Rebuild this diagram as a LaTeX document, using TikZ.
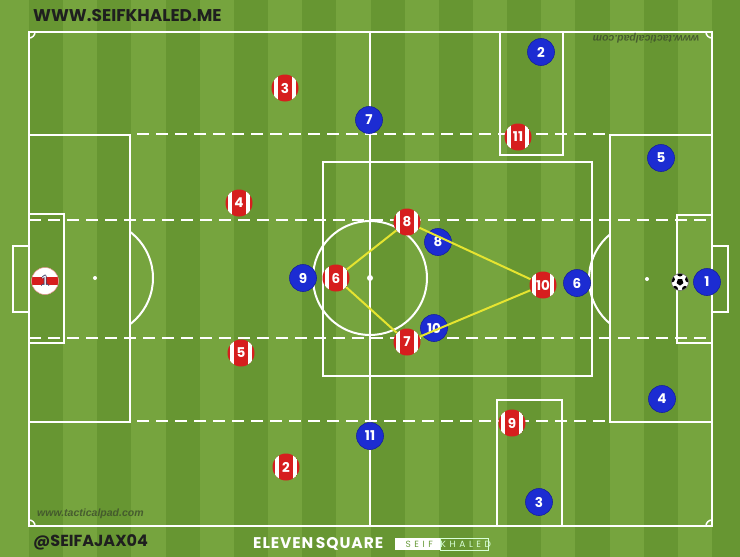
\documentclass[tikz,border=0pt]{standalone}
\usepackage{fontspec}
\setmainfont{Liberation Sans}
\newfontfamily\headfont{Poppins}
\newfontfamily\widefont{Poppins}[LetterSpace=6]
\newfontfamily\logofont{Poppins}[LetterSpace=40]
\definecolor{grassL}{RGB}{118,164,62}
\definecolor{grassD}{RGB}{103,150,50}
\definecolor{pred}{RGB}{214,30,30}
\definecolor{pblue}{RGB}{28,44,210}
\definecolor{yel}{RGB}{230,228,48}
\definecolor{padtext}{RGB}{62,80,44}
\definecolor{logogreen}{RGB}{105,155,58}
\definecolor{gkdigit}{RGB}{60,62,105}
\newcommand{\numfont}{\headfont\bfseries\fontsize{13.5}{13.5}\selectfont}
\newcommand{\outlinedigit}[1]{\leavevmode
  \rlap{\kern-0.7pt\textcolor{gkdigit}{#1}}%
  \rlap{\kern0.7pt\textcolor{gkdigit}{#1}}%
  \rlap{\raisebox{0.7pt}{\textcolor{gkdigit}{#1}}}%
  \rlap{\raisebox{-0.7pt}{\textcolor{gkdigit}{#1}}}%
  \textcolor{white}{#1}}
\tikzset{
  pline/.style={white, line width=2pt},
  dline/.style={white, line width=2pt, dash pattern=on 12pt off 7pt},
  yline/.style={yel, line width=2pt},
  redp/.style={circle, minimum size=27pt, inner sep=0pt, fill=pred, text=white, font=\numfont,
    path picture={
      \fill[white] ([xshift=-10.8pt]path picture bounding box.south) rectangle ([xshift=-7.3pt]path picture bounding box.north);
      \fill[white] ([xshift=7.3pt]path picture bounding box.south) rectangle ([xshift=10.8pt]path picture bounding box.north);
    }},
  gkp/.style={circle, minimum size=27pt, inner sep=0pt, fill=white, draw=pred!50!white, line width=0.5pt,
    font=\fontsize{15}{15}\selectfont,
    path picture={
      \fill[pred] ([yshift=-4pt]path picture bounding box.west) rectangle ([yshift=4pt]path picture bounding box.east);
    }},
  bluep/.style={circle, minimum size=27pt, inner sep=0pt, fill=pblue, draw=pblue!75!black, line width=0.6pt, text=white, font=\numfont},
  footb/.style={circle, minimum size=17pt, inner sep=0pt, fill=white, draw=black!60, line width=0.5pt,
    path picture={
      \begin{scope}[shift={(path picture bounding box.center)}]
        \fill[black] (90:3.6) -- (162:3.6) -- (234:3.6) -- (306:3.6) -- (18:3.6) -- cycle;
        \fill[black] (270:8.5) circle (3);
        \fill[black] (198:8.5) circle (3);
        \fill[black] (342:8.5) circle (3);
        \fill[black] (126:8.5) circle (3);
        \fill[black] (54:8.5) circle (3);
      \end{scope}
    }},
  padstyle/.style={font=\itshape\bfseries\fontsize{10.5}{10.5}\selectfont, text=padtext, opacity=0.85, inner sep=0pt}
}
\begin{document}
\begin{tikzpicture}[x=1pt,y=-1pt]
\useasboundingbox (0,0) rectangle (740,557);
% grass
\fill[grassL] (0,0) rectangle (740,557);
\foreach \k in {-1,0,...,10} {
  \fill[grassD] ({29+68.3*\k},0) rectangle ({63.15+68.3*\k},557);
}
% pitch markings
\draw[pline] (29,32) rectangle (712,526);
\draw[pline] (370,32) -- (370,526);
\draw[pline] (370,278) circle[radius=57pt];
\fill[white] (370,278) circle[radius=3pt];
% left side
\draw[pline] (29,135) rectangle (130,422);
\draw[pline] (29,214) rectangle (64,343);
\draw[pline] (29,246) -- (13,246) -- (13,312) -- (29,312);
\fill[white] (95,278) circle[radius=2pt];
\begin{scope}
  \clip (131,150) rectangle (220,400);
  \draw[pline] (95,278) circle[radius=58pt];
\end{scope}
% right side
\draw[pline] (610,135) rectangle (712,422);
\draw[pline] (677,215) rectangle (712,343);
\draw[pline] (712,246) -- (728,246) -- (728,312) -- (712,312);
\fill[white] (647,279) circle[radius=2pt];
\begin{scope}
  \clip (520,150) rectangle (609,400);
  \draw[pline] (647,279) circle[radius=58pt];
\end{scope}
% zones
\draw[pline, line width=1.6pt] (323,162) rectangle (592,376);
\draw[pline] (500,32) -- (500,155) -- (563,155) -- (563,32);
\draw[pline] (497,526) -- (497,400) -- (562,400) -- (562,526);
% corner arcs
\draw[pline, line width=1.5pt] (29,38) arc[start angle=-90, end angle=0, radius=6pt];
\draw[pline, line width=1.5pt] (706,32) arc[start angle=180, end angle=270, radius=6pt];
\draw[pline, line width=1.5pt] (29,520) arc[start angle=90, end angle=0, radius=6pt];
\draw[pline, line width=1.5pt] (706,526) arc[start angle=180, end angle=90, radius=6pt];
% dashed lines
\draw[dline] (137,134) -- (610,134);
\draw[dline] (137,421) -- (610,421);
\draw[dline] (29,220) -- (712,220);
\draw[dline] (29,338) -- (712,338);
% watermark texts
\node[padstyle, anchor=west] (padA) at (37,514) {www.tacticalpad.com};
\node[padstyle, rotate=180] (padB) at (646,38) {www.tacticalpad.com};
% players: red
\node[redp] (r3) at (285,88) {3};
\node[redp] (r11) at (518,137) {11};
\node[redp] (r4) at (239,203) {4};
\node[redp] (r8) at (407,222) {8};
\node[redp] (r6) at (336,278) {6};
\node[gkp] (r1) at (45,281) {\outlinedigit{1}};
\node[redp] (r10) at (543,285) {10};
\node[redp] (r7) at (407,342) {7};
\node[redp] (r5) at (241,353) {5};
\node[redp] (r9) at (512,423) {9};
\node[redp] (r2) at (286,467) {2};
% players: blue
\node[bluep] (b2) at (541,52) {2};
\node[bluep] (b7) at (369,120) {7};
\node[bluep] (b5) at (661,158) {5};
\node[bluep] (b8) at (438,242) {8};
\node[bluep] (b9) at (303,278) {9};
\node[bluep] (b6) at (577,283) {6};
\node[bluep] (b1) at (707,282) {1};
\node[bluep] (b10) at (434,328) {10};
\node[bluep] (b4) at (662,399) {4};
\node[bluep] (b11) at (370,436) {11};
\node[bluep] (b3) at (539,502) {3};
\node[footb] (ball) at (680,282) {};
% connections
\draw[yline] (r6) -- (r8);
\draw[yline] (r8) -- (r10);
\draw[yline] (r10) -- (r7);
\draw[yline] (r7) -- (r6);
% header / footer texts
\node[anchor=west, inner sep=0pt, font=\headfont\bfseries\fontsize{17}{17}\selectfont, text=black!88] (site) at (33,16) {WWW.SEIFKHALED.ME};
\node[anchor=west, inner sep=0pt, font=\headfont\bfseries\fontsize{16}{16}\selectfont, text=black!88] (handle) at (33,542) {@SEIFAJAX04};
\node[anchor=west, inner sep=0pt, font=\widefont\bfseries\fontsize{15.5}{15.5}\selectfont, text=white] (eleven) at (253,544) {ELEVEN\,SQUARE};
\fill[white] (395,538) rectangle (440,550);
\node[inner sep=0pt, font=\logofont\fontsize{9}{9}\selectfont, text=logogreen] (seif) at (419.3,544) {SEIF};
\draw[white!85!green, line width=0.7pt] (440,538) rectangle (488,550);
\node[inner sep=0pt, font=\logofont\fontsize{9}{9}\selectfont, text=white!85!green] (khaled) at (465.8,544) {KHALED};
\end{tikzpicture}
\end{document}
